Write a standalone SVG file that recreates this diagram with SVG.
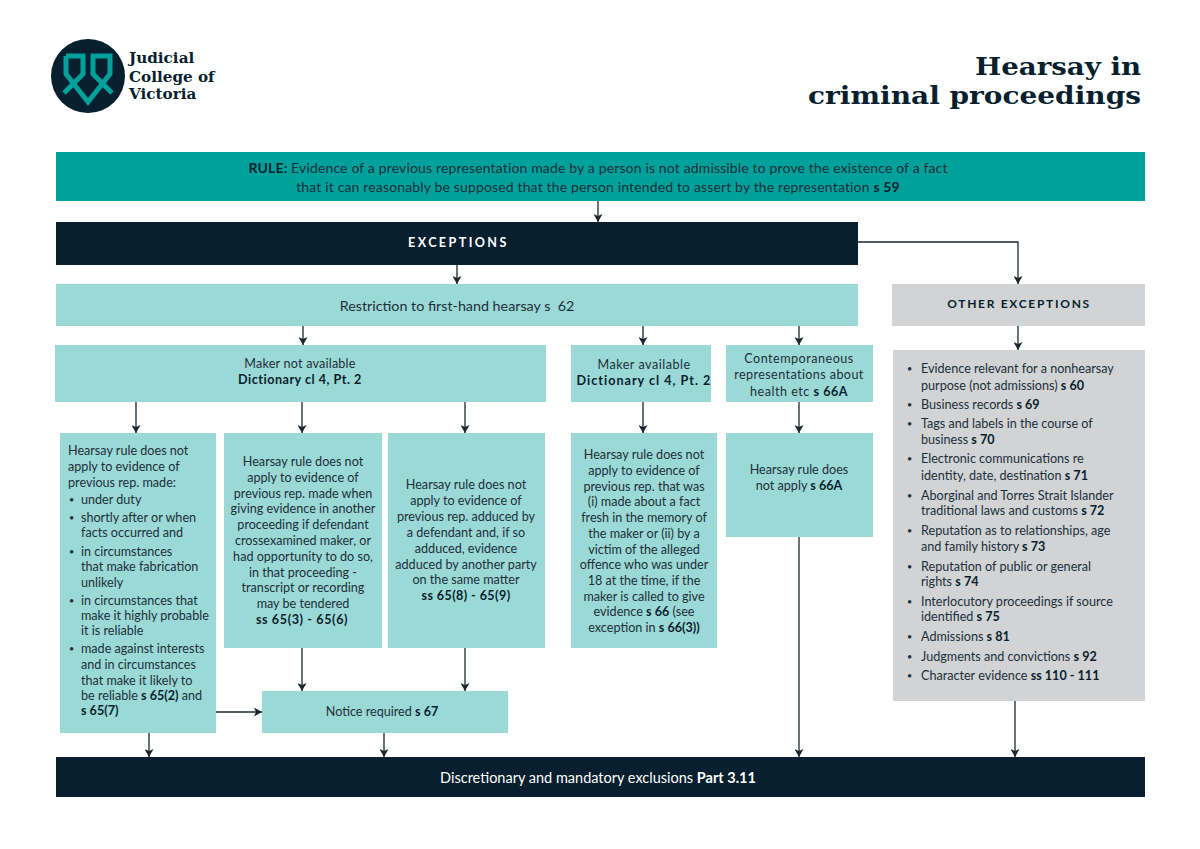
<svg xmlns="http://www.w3.org/2000/svg" width="1200" height="849" viewBox="0 0 1200 849">
<style>
text{font-family:"Lato","Open Sans","Liberation Sans",sans-serif;font-size:12.6px;fill:#1c2f3a}
.c{text-anchor:middle}
.b{font-weight:700;fill:#071f2e}
.teal{fill:#00a19a}.navy{fill:#071f2e}.light{fill:#9bd9d6}.grey{fill:#d1d3d4}
.u{font-size:9px}
.t{font-family:"DejaVu Serif","Liberation Serif",serif;font-size:24.5px;font-weight:700;text-anchor:end;fill:#071f2e}
.lg{font-family:"DejaVu Serif","Liberation Serif",serif;font-size:15.2px;font-weight:700;fill:#071f2e}
.r{font-size:14px;letter-spacing:.15px}
.sp{letter-spacing:.5px}
.conn path{fill:none;stroke:#1a2730;stroke-width:1.3;marker-end:url(#a)}
.mark{fill:none;stroke:#00a19a;stroke-width:5}
</style>
<defs><marker id="a" markerUnits="userSpaceOnUse" markerWidth="9" markerHeight="9" refX="8" refY="4.5" orient="auto"><path d="M0 0L8 4.5L0 9L2 4.5Z" fill="#1a2730"/></marker></defs>
<rect width="1200" height="849" fill="#fff"/>
<g id="logo">
<circle cx="88" cy="76" r="37" class="navy"/>
<path class="mark" d="M66 56H83V74L64 93M66 56V74L88 102L110 74V56H93V74L112 93"/>
<text class="lg" x="129" y="63">Judicial</text>
<text class="lg" x="129" y="82">College of</text>
<text class="lg" x="129" y="99">Victoria</text>
</g>
<g id="title">
<text class="t" x="1141" y="75" textLength="166" lengthAdjust="spacingAndGlyphs">Hearsay in</text>
<text class="t" x="1141" y="104" textLength="333" lengthAdjust="spacingAndGlyphs">criminal proceedings</text>
</g>
<g id="rule"><rect class="teal" x="56" y="152" width="1089" height="49"/>
<text class="c r" x="598" y="173"><tspan class="b">RULE:</tspan> Evidence of a previous representation made by a person is not admissible to prove the existence of a fact</text>
<text class="c r" x="598" y="192">that it can reasonably be supposed that the person intended to assert by the representation <tspan class="b">s 59</tspan></text></g>
<g id="exceptions"><rect class="navy" x="56" y="222" width="802" height="43"/><text style="fill:#fff;font-weight:700;letter-spacing:2.4px" x="408" y="247">EXCEPTIONS</text></g>
<g id="restriction"><rect class="light" x="56" y="284" width="802" height="42"/><text class="c" x="457" y="311" style="font-size:14.3px">Restriction to first-hand hearsay s&#160; 62</text></g>
<g id="other-head"><rect class="grey" x="892" y="284" width="253" height="42"/><text class="c b" x="1019" y="308" style="letter-spacing:1.7px;font-size:12px">OTHER EXCEPTIONS</text></g>
<g id="maker-na"><rect class="light" x="55" y="345" width="491" height="57"/><text class="c" x="300" y="368" style="letter-spacing:.2px">Maker not available</text><text class="c b" x="300" y="384" style="letter-spacing:.5px">Dictionary cl 4, Pt. 2</text></g>
<g id="maker-a"><rect class="light" x="571" y="345" width="140" height="57"/><text class="c sp" x="644" y="369">Maker available</text><text class="c b" x="644" y="385" style="letter-spacing:1px">Dictionary cl 4, Pt. 2</text></g>
<g id="contemp"><rect class="light" x="726" y="345" width="147" height="57"/><text class="c sp" x="799" y="363">Contemporaneous</text><text class="c" x="799" y="379" style="letter-spacing:.4px">representations about</text><text class="c sp" x="799" y="396">health etc <tspan class="b">s 66A</tspan></text></g>
<g id="box1"><rect class="light" x="60" y="433" width="156" height="300"/>
<text x="68" y="455">Hearsay rule does not</text><text x="68" y="471">apply to evidence of</text><text x="68" y="487">previous rep. made:</text>
<text class="u" x="69" y="503">•</text><text x="81" y="504">under duty</text>
<text class="u" x="69" y="521">•</text><text x="81" y="522">shortly after or when</text><text x="81" y="537">facts occurred and</text>
<text class="u" x="69" y="555">•</text><text x="81" y="556">in circumstances</text><text x="81" y="571">that make fabrication</text><text x="81" y="587">unlikely</text>
<text class="u" x="69" y="604">•</text><text x="81" y="605">in circumstances that</text><text x="81" y="620">make it highly probable</text><text x="81" y="635">it is reliable</text>
<text class="u" x="69" y="652">•</text><text x="81" y="653">made against interests</text><text x="81" y="669">and in circumstances</text><text x="81" y="685">that make it likely to</text><text x="81" y="700">be reliable <tspan class="b">s 65(2)</tspan> and</text><text class="b" x="81" y="715">s 65(7)</text></g>
<g id="box2"><rect class="light" x="224" y="433" width="158" height="215"/>
<text class="c" x="303" y="466">Hearsay rule does not</text><text class="c" x="303" y="482">apply to evidence of</text><text class="c" x="303" y="498">previous rep. made when</text><text class="c" x="303" y="513">giving evidence in another</text><text class="c" x="303" y="529">proceeding if defendant</text><text class="c" x="303" y="545">crossexamined maker, or</text><text class="c" x="303" y="561">had opportunity to do so,</text><text class="c" x="303" y="577">in that proceeding -</text><text class="c" x="303" y="592">transcript or recording</text><text class="c" x="303" y="608">may be tendered</text><text class="c b" x="302" y="624" style="letter-spacing:.6px">ss 65(3) - 65(6)</text></g>
<g id="box3"><rect class="light" x="388" y="433" width="157" height="215"/>
<text class="c" x="466" y="489">Hearsay rule does not</text><text class="c" x="466" y="505">apply to evidence of</text><text class="c" x="466" y="521">previous rep. adduced by</text><text class="c" x="466" y="537">a defendant and, if so</text><text class="c" x="466" y="553">adduced, evidence</text><text class="c" x="466" y="569">adduced by another party</text><text class="c" x="466" y="584">on the same matter</text><text class="c b" x="466" y="600" style="letter-spacing:.4px">ss 65(8) - 65(9)</text></g>
<g id="box4"><rect class="light" x="571" y="433" width="146" height="215"/>
<text class="c" x="644" y="459">Hearsay rule does not</text><text class="c" x="644" y="475">apply to evidence of</text><text class="c" x="644" y="491">previous rep. that was</text><text class="c" x="644" y="506">(i) made about a fact</text><text class="c" x="644" y="522">fresh in the memory of</text><text class="c" x="644" y="538">the maker or (ii) by a</text><text class="c" x="644" y="554">victim of the alleged</text><text class="c" x="644" y="569">offence who was under</text><text class="c" x="644" y="585">18 at the time, if the</text><text class="c" x="644" y="601">maker is called to give</text><text class="c" x="644" y="616">evidence <tspan class="b">s 66</tspan> (see</text><text class="c" x="644" y="632">exception in <tspan class="b">s 66(3))</tspan></text></g>
<g id="box5"><rect class="light" x="726" y="433" width="147" height="104"/><text class="c" x="799" y="474">Hearsay rule does</text><text class="c" x="799" y="490">not apply <tspan class="b">s 66A</tspan></text></g>
<g id="other"><rect class="grey" x="893" y="350" width="252" height="351"/>
<text class="u" x="907" y="372">•</text><text x="921" y="373">Evidence relevant for a nonhearsay</text><text x="921" y="390">purpose (not admissions) <tspan class="b">s 60</tspan></text>
<text class="u" x="907" y="408">•</text><text x="921" y="409">Business records <tspan class="b">s 69</tspan></text>
<text class="u" x="907" y="427">•</text><text x="921" y="428">Tags and labels in the course of</text><text x="921" y="444">business <tspan class="b">s 70</tspan></text>
<text class="u" x="907" y="462">•</text><text x="921" y="463">Electronic communications re</text><text x="921" y="480">identity, date, destination <tspan class="b">s 71</tspan></text>
<text class="u" x="907" y="499">•</text><text x="921" y="500">Aborginal and Torres Strait Islander</text><text x="921" y="515">traditional laws and customs <tspan class="b">s 72</tspan></text>
<text class="u" x="907" y="534">•</text><text x="921" y="535">Reputation as to relationships, age</text><text x="921" y="551">and family history <tspan class="b">s 73</tspan></text>
<text class="u" x="907" y="570">•</text><text x="921" y="571">Reputation of public or general</text><text x="921" y="586">rights <tspan class="b">s 74</tspan></text>
<text class="u" x="907" y="605">•</text><text x="921" y="606">Interlocutory proceedings if source</text><text x="921" y="621">identified <tspan class="b">s 75</tspan></text>
<text class="u" x="907" y="640">•</text><text x="921" y="641">Admissions <tspan class="b">s 81</tspan></text>
<text class="u" x="907" y="660">•</text><text x="921" y="661">Judgments and convictions <tspan class="b">s 92</tspan></text>
<text class="u" x="907" y="679">•</text><text x="921" y="680">Character evidence <tspan class="b">ss 110 - 111</tspan></text></g>
<g id="notice"><rect class="light" x="262" y="691" width="246" height="42"/><text class="c" x="382" y="716">Notice required <tspan class="b">s 67</tspan></text></g>
<g id="exclusions"><rect class="navy" x="56" y="757" width="1089" height="40"/><text class="c" style="fill:#fff;font-size:14.5px" x="598" y="783">Discretionary and mandatory exclusions <tspan style="fill:#fff;font-weight:700">Part 3.11</tspan></text></g>
<g id="connectors" class="conn">
<path d="M598 201V222"/><path d="M457 265V284"/><path d="M858 242H1018V284"/><path d="M303 326V345"/><path d="M643 326V345"/><path d="M799 326V345"/><path d="M1018 326V350"/>
<path d="M136 402V433"/><path d="M302 402V433"/><path d="M465 402V433"/><path d="M643 402V433"/><path d="M799 402V433"/>
<path d="M302 648V691"/><path d="M465 648V691"/><path d="M216 712H262"/><path d="M149 733V757"/><path d="M384 733V757"/><path d="M799 537V757"/><path d="M1015 701V757"/>
</g>
</svg>
